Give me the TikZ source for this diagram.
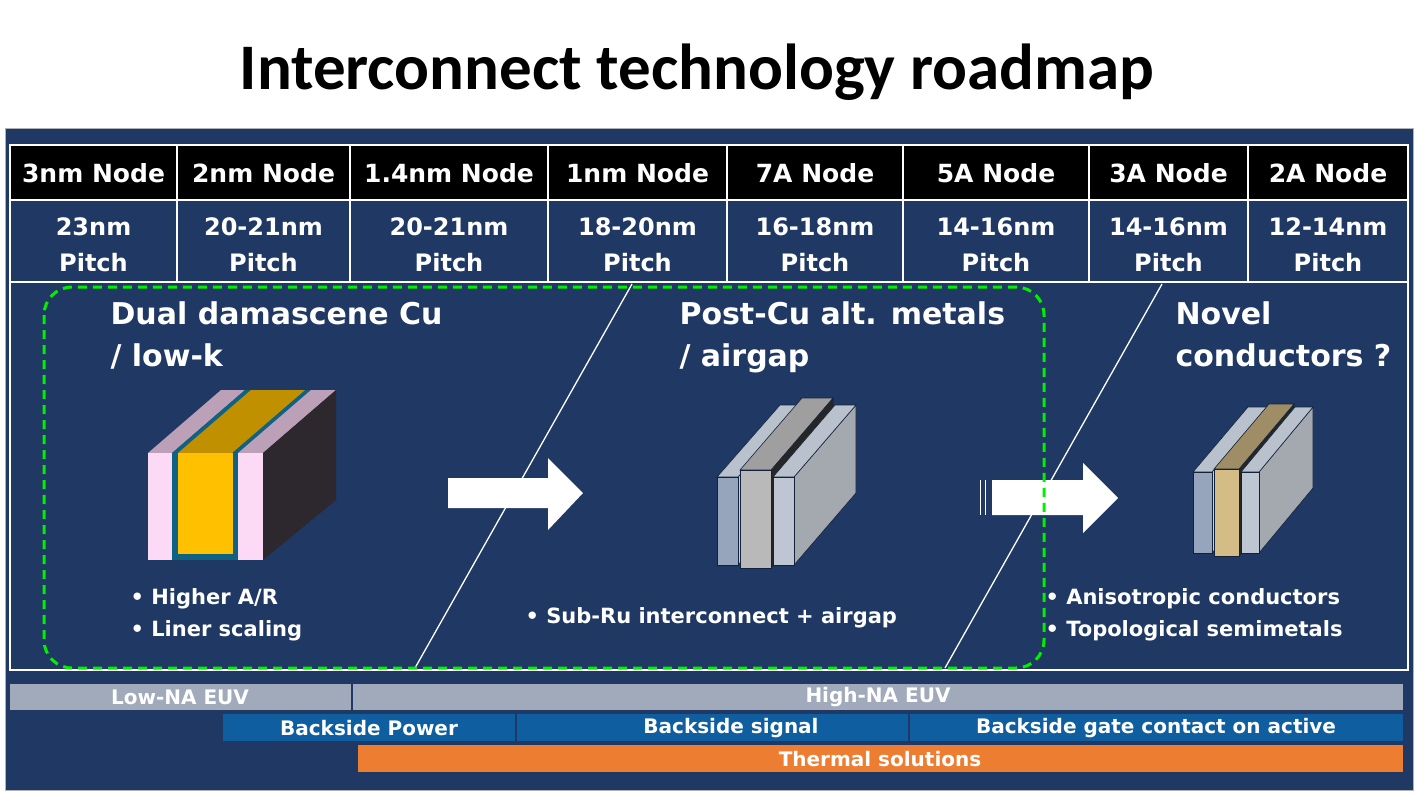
\documentclass[tikz,border=0pt]{standalone}
\usepackage{fontspec}
\setmainfont{DejaVu Sans}
\newfontfamily\titlefont{Carlito}
\definecolor{bg}{RGB}{31,56,100}
\definecolor{gbar}{RGB}{160,170,186}
\definecolor{bbar}{RGB}{14,94,160}
\definecolor{obar}{RGB}{237,125,49}
\definecolor{pinkf}{RGB}{252,218,246}
\definecolor{pinkt}{RGB}{188,160,184}
\definecolor{cu}{RGB}{255,192,0}
\definecolor{cut}{RGB}{192,144,0}
\definecolor{liner}{RGB}{16,98,130}
\definecolor{darkf}{RGB}{44,40,46}
\definecolor{glass}{RGB}{200,210,224}
\definecolor{glassd}{RGB}{150,165,188}
\definecolor{tan}{RGB}{212,188,135}
\definecolor{grn}{RGB}{0,240,0}
\newcommand{\myslab}[9]{% x0 x1 ytop ybot dx dy front top side
 \filldraw[draw=bg!60!black,line width=.6pt,fill=#9] (#2,#3)--(#2+#5,#3+#6)--(#2+#5,#4+#6)--(#2,#4)--cycle;
 \filldraw[draw=bg!60!black,line width=.6pt,fill=#8] (#1,#3)--(#1+#5,#3+#6)--(#2+#5,#3+#6)--(#2,#3)--cycle;
 \filldraw[draw=bg!60!black,line width=.6pt,fill=#7] (#1,#3) rectangle (#2,#4);}
\begin{document}
\begin{tikzpicture}[x=1pt,y=-1pt,
 cell/.style={draw=white,line width=1.2pt},
 hd/.style={font=\bfseries\fontsize{25}{27}\selectfont,text=white},
 big/.style={font=\bfseries\fontsize{30}{42}\selectfont,text=white,align=left,anchor=north west},
 bul/.style={font=\bfseries\fontsize{21}{32}\selectfont,text=white,align=left},
 bar/.style={font=\bfseries\fontsize{20}{22}\selectfont,text=white}]
\useasboundingbox (0,0) rectangle (1418,796);
\fill[white] (0,0) rectangle (1418,796);
\node[font=\titlefont\bfseries\fontsize{65}{70}\selectfont] (title) at (697,72) {Interconnect technology roadmap};
\fill[bg] (5,128) rectangle (1413,790);
\draw[gray!60] (5,128) rectangle (1413,790);
% header
\fill[black] (10,145) rectangle (1408,200);
\foreach \a/\b/\n/\p [count=\i] in {10/177/3nm Node/23nm,177/350/2nm Node/20-21nm,350/548/1.4nm Node/20-21nm,548/727/1nm Node/18-20nm,727/903/7A Node/16-18nm,903/1089/5A Node/14-16nm,1089/1248/3A Node/14-16nm,1248/1408/2A Node/12-14nm}{
 \draw[cell] (\a,145) rectangle (\b,200);
 \draw[cell] (\a,200) rectangle (\b,282);
 \node[hd] (h\i) at ({(\a+\b)/2},173) {\n};
 \node[hd,align=center,font=\bfseries\fontsize{24}{36}\selectfont] (p\i) at ({(\a+\b)/2},245) {\p\\Pitch};
}
\draw[cell] (10,282) rectangle (1408,670);
% diagonal lines
\coordinate (d1a) at (632,284); \coordinate (d1b) at (415,668);
\coordinate (d2a) at (1162,284); \coordinate (d2b) at (945,668);
\draw[white,line width=1.3pt] (d1a)--(d1b) (d2a)--(d2b);
% texts
\node[big] (t1) at (107,298) {Dual damascene Cu\\/ low-k};
\node[big] (t2) at (676,298) {Post-Cu alt. metals\\/ airgap};
\node[big] (t3) at (1172,298) {Novel\\conductors ?};
\node[bul,anchor=north west] (b1) at (127,585) {\textbullet\ Higher A/R\\\textbullet\ Liner scaling};
\node[bul,anchor=west] (b2) at (522,618) {\textbullet\ Sub-Ru interconnect + airgap};
\node[bul,anchor=north west] (b3) at (1042,585) {\textbullet\ Anisotropic conductors\\\textbullet\ Topological semimetals};
% block 1
\fill[pinkt] (148,453)--(221,390)--(245,390)--(172,453)--cycle;
\fill[liner] (172,453)--(245,390)--(311,390)--(238,453)--cycle;
\fill[cut] (178,453)--(251,390)--(305,390)--(232,453)--cycle;
\fill[pinkt] (238,453)--(311,390)--(336,390)--(263,453)--cycle;
\fill[darkf] (263,453)--(336,390)--(336,500)--(263,560)--cycle;
\fill[pinkf] (148,453) rectangle (172,560);
\fill[liner] (172,453) rectangle (238,560);
\fill[cu] (178,453) rectangle (233,554);
\fill[pinkf] (238,453) rectangle (263,560);
% block 2
\myslab{717}{738}{477}{565}{63}{-72}{glassd}{glass!80!gray}{glass}
\myslab{740}{771}{470}{568}{62}{-72}{gray!55}{gray!75}{black!85}
\myslab{773}{794}{477}{565}{62}{-72}{glass!85!gray}{glass!80!gray}{gray!50!glass}
% block 3
\myslab{1193}{1212}{472}{553}{55}{-65}{glassd}{glass!80!gray}{glass}
\myslab{1214}{1239}{469}{556}{55}{-65}{tan}{tan!75!black}{black!85}
\myslab{1241}{1259}{472}{553}{54}{-65}{glass!85!gray}{glass!80!gray}{gray!50!glass}
% arrows
\fill[white] (448,478)--(548,478)--(548,458)--(583,493)--(548,530)--(548,508)--(448,508)--cycle;
\fill[white] (992,480)--(1083,480)--(1083,463)--(1118,498)--(1083,533)--(1083,515)--(992,515)--cycle;
\draw[white,line width=1pt] (980,480)--(980,515) (985,480)--(985,515);
% green dashed
\draw[grn,line width=3pt,dash pattern=on 9pt off 6pt,rounded corners=28pt] (44,287) rectangle (1044,668);
% bars
\fill[gbar] (10,684) rectangle (351,710); \node[bar] (lna) at (180,697) {Low-NA EUV};
\fill[gbar] (353,684) rectangle (1403,710); \node[bar] (hna) at (878,697) {High-NA EUV};
\fill[bbar] (223,714) rectangle (515,741); \node[bar] (bp) at (369,728) {Backside Power};
\fill[bbar] (517,714) rectangle (908,741); \node[bar] (bs) at (731,728) {Backside signal};
\fill[bbar] (910,714) rectangle (1403,741); \node[bar] (bg) at (1156,728) {Backside gate contact on active};
\fill[obar] (358,745) rectangle (1403,772); \node[bar] (th) at (880,759) {Thermal solutions};
\end{tikzpicture}
\end{document}
